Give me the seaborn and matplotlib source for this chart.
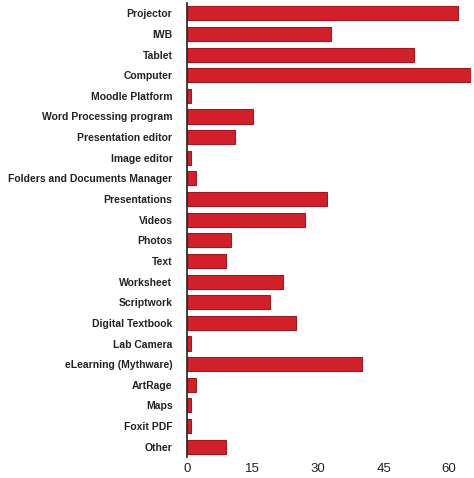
import numpy as np
import pandas as pd
import seaborn as sns
import matplotlib
matplotlib.use("Agg")
import matplotlib.pyplot as plt

categories = ["Projector", "IWB", "Tablet", "Computer", "Moodle Platform",
              "Word Processing program", "Presentation editor", "Image editor",
              "Folders and Documents Manager", "Presentations", "Videos", "Photos",
              "Text", "Worksheet", "Scriptwork", "Digital Textbook", "Lab Camera",
              "eLearning (Mythware)", "ArtRage", "Maps", "Foxit PDF", "Other"]
counts = [62, 33, 52, 65, 1, 15, 11, 1, 2, 32, 27, 10, 9, 22, 19, 25, 1, 40, 2, 1, 1, 9]
xticks = [0, 15, 30, 45, 60]

df = pd.DataFrame({"tool": categories, "count": counts})

sns.set_style("white")
plt.rcParams["font.family"] = ["Liberation Sans", "DejaVu Sans"]

fig = plt.figure(figsize=(4.74, 4.78), dpi=100)
ax = fig.add_axes([187 / 474, 21 / 478, 284 / 474, 454 / 478])

sns.barplot(data=df, x="count", y="tool", ax=ax, color="#d2202b",
            saturation=1, width=0.68, edgecolor="#9e1a22", linewidth=0.8)

ax.set_xlim(0, 65)
ax.set_xticks(xticks)
ax.set_xlabel("")
ax.set_ylabel("")
for s in ["top", "right", "bottom"]:
    ax.spines[s].set_visible(False)
ax.spines["left"].set_color("#222222")
ax.spines["left"].set_linewidth(1.2)
ax.tick_params(axis="y", length=0, pad=10.5, labelsize=7.5)
ax.tick_params(axis="x", length=0, pad=4, labelsize=9.5)
for lab in ax.get_yticklabels():
    lab.set_fontweight("bold")
    lab.set_color("#222222")
for lab in ax.get_xticklabels():
    lab.set_color("#222222")

fig.savefig("out.png", dpi=100)
